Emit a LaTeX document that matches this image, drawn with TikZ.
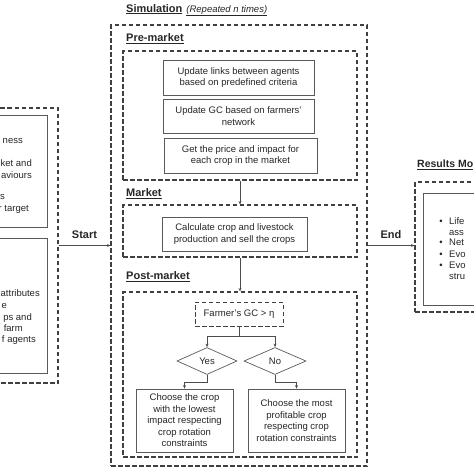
\documentclass[tikz,border=0pt]{standalone}
\usepackage{fontspec}
\setmainfont{Liberation Sans}
\usetikzlibrary{arrows.meta,shapes.geometric}
\begin{document}
\begin{tikzpicture}[x=1pt, y=-1pt,
    every node/.style={font=\fontsize{9.5}{11.5}\selectfont, text=black!85},
    frame/.style={draw=black!75, dashed, dash pattern=on 4.5pt off 2.5pt, line width=1.1pt},
    taskbox/.style={draw=black!65, line width=0.7pt, align=center, inner sep=0pt},
    choice/.style={draw=black!65, line width=0.7pt, diamond, inner sep=0pt},
    heading/.style={anchor=west, inner sep=0pt, font=\fontsize{11}{13}\selectfont\bfseries},
    frag/.style={inner sep=0pt},
    link/.style={draw=black!70, line width=0.6pt},
    arr/.style={link, -{Stealth[length=3.5pt, width=3pt]}}]
    \useasboundingbox (0,0) rectangle (474,474);
    \clip (0,0) rectangle (474,474);
    % left column (cut by the page edge)
    \node[frame, minimum width=78pt, minimum height=275pt] (leftbox) at (19,245.5) {};
    \node[taskbox, minimum width=67pt, minimum height=112pt] (agents) at (13.5,171) {};
    \node[taskbox, minimum width=67pt, minimum height=135pt] (farms) at (13.5,305.5) {};
    \node[frag, anchor=mid east] (a1) at (23,141) {ness};
    \node[frag, anchor=mid east] (a2) at (32,164) {ket and};
    \node[frag, anchor=mid east] (a3) at (32,176) {aviours};
    \node[frag, anchor=mid east] (a4) at (5,197) {s};
    \node[frag, anchor=mid east] (a5) at (29,209) {r target};
    \node[frag, anchor=mid west] (f1) at (0.5,294) {attributes};
    \node[frag, anchor=mid east] (f2) at (7,306) {e};
    \node[frag, anchor=mid east] (f3) at (32,318) {ps and};
    \node[frag, anchor=mid east] (f4) at (23,329) {farm};
    \node[frag, anchor=mid east] (f5) at (36,340) {f agents};
    % simulation
    \node[frame, minimum width=256pt, minimum height=441pt] (sim) at (239,245.5) {};
    \node[heading] (simlabel) at (126,10) {\underline{Simulation}\hspace{4pt}{\mdseries\itshape\fontsize{9.5}{11}\selectfont\underline{(Repeated n times)}}};
    \node[heading] (prelabel) at (126,39) {\underline{Pre-market}};
    \node[frame, minimum width=234pt, minimum height=129pt] (pre) at (240,115.5) {};
    \node[taskbox, minimum width=151pt, minimum height=35pt] (links) at (238.5,77.5) {Update links between agents\\based on predefined criteria};
    \node[taskbox, minimum width=151pt, minimum height=34pt] (gc) at (238.5,116) {Update GC based on farmers'\\network};
    \node[taskbox, minimum width=153pt, minimum height=35pt] (price) at (240.5,155.5) {Get the price and impact for\\each crop in the market};
    \node[heading] (marketlabel) at (126,194) {\underline{Market}};
    \node[frame, minimum width=234pt, minimum height=52pt] (market) at (240,231) {};
    \node[taskbox, minimum width=145pt, minimum height=34pt] (calc) at (234.5,234) {Calculate crop and livestock\\production and sell the crops};
    \node[heading] (postlabel) at (126,277) {\underline{Post-market}};
    \node[frame, minimum width=234pt, minimum height=165pt] (post) at (240,374.5) {};
    \node[frame, line width=0.9pt, minimum width=88pt, minimum height=24pt, inner sep=0pt] (gcthr) at (239,314) {Farmer's GC > η};
    \node[choice, minimum width=60pt, minimum height=27pt] (yes) at (207,361) {Yes};
    \node[choice, minimum width=62pt, minimum height=27pt] (no) at (275,361) {No};
    \node[taskbox, minimum width=97pt, minimum height=63pt] (lowimp) at (184.5,420.5) {Choose the crop\\with the lowest\\impact respecting\\crop rotation\\constraints};
    \node[taskbox, minimum width=97pt, minimum height=63pt] (profit) at (296.5,420.5) {Choose the most\\profitable crop\\respecting crop\\rotation constraints};
    \draw[arr] (pre.south) -- (market.north);
    \draw[arr] (market.south) -- (post.north);
    \coordinate (split) at (239,336);
    \draw[link] (gcthr.south) -- (split);
    \draw[arr] (split) -| (yes.north);
    \draw[arr] (split) -| (no.north);
    \draw[arr] (yes.south) -- ++(0,7) -| (lowimp.north);
    \draw[arr] (no.south) -- ++(0,7) -| (profit.north);
    % results (cut by the page edge)
    \node[heading, font=\fontsize{10.5}{13}\selectfont\bfseries] (reslabel) at (417,165) {\underline{Results Mo}};
    \node[frame, minimum width=75pt, minimum height=130pt] (res) at (452.5,247) {};
    \node[taskbox, minimum width=67pt, minimum height=112pt] (resin) at (456.5,249) {};
    \foreach \y in {222,243,255,266} \node[frag] at (441,\y) {\textbullet};
    \node[frag, anchor=mid west] (r1) at (449,222) {Life};
    \node[frag, anchor=mid west] (r2) at (449,233) {ass};
    \node[frag, anchor=mid west] (r3) at (449,243) {Net};
    \node[frag, anchor=mid west] (r4) at (449,255) {Evo};
    \node[frag, anchor=mid west] (r5) at (449,266) {Evo};
    \node[frag, anchor=mid west] (r6) at (449,277) {stru};
    % start and end
    \draw[arr] (leftbox.east) -- (sim.west) node[midway, above=3pt, font=\fontsize{11}{13}\selectfont\bfseries] {Start};
    \draw[arr] (sim.east) -- (res.west |- sim.east) node[midway, above=3pt, font=\fontsize{11}{13}\selectfont\bfseries] {End};
\end{tikzpicture}
\end{document}
